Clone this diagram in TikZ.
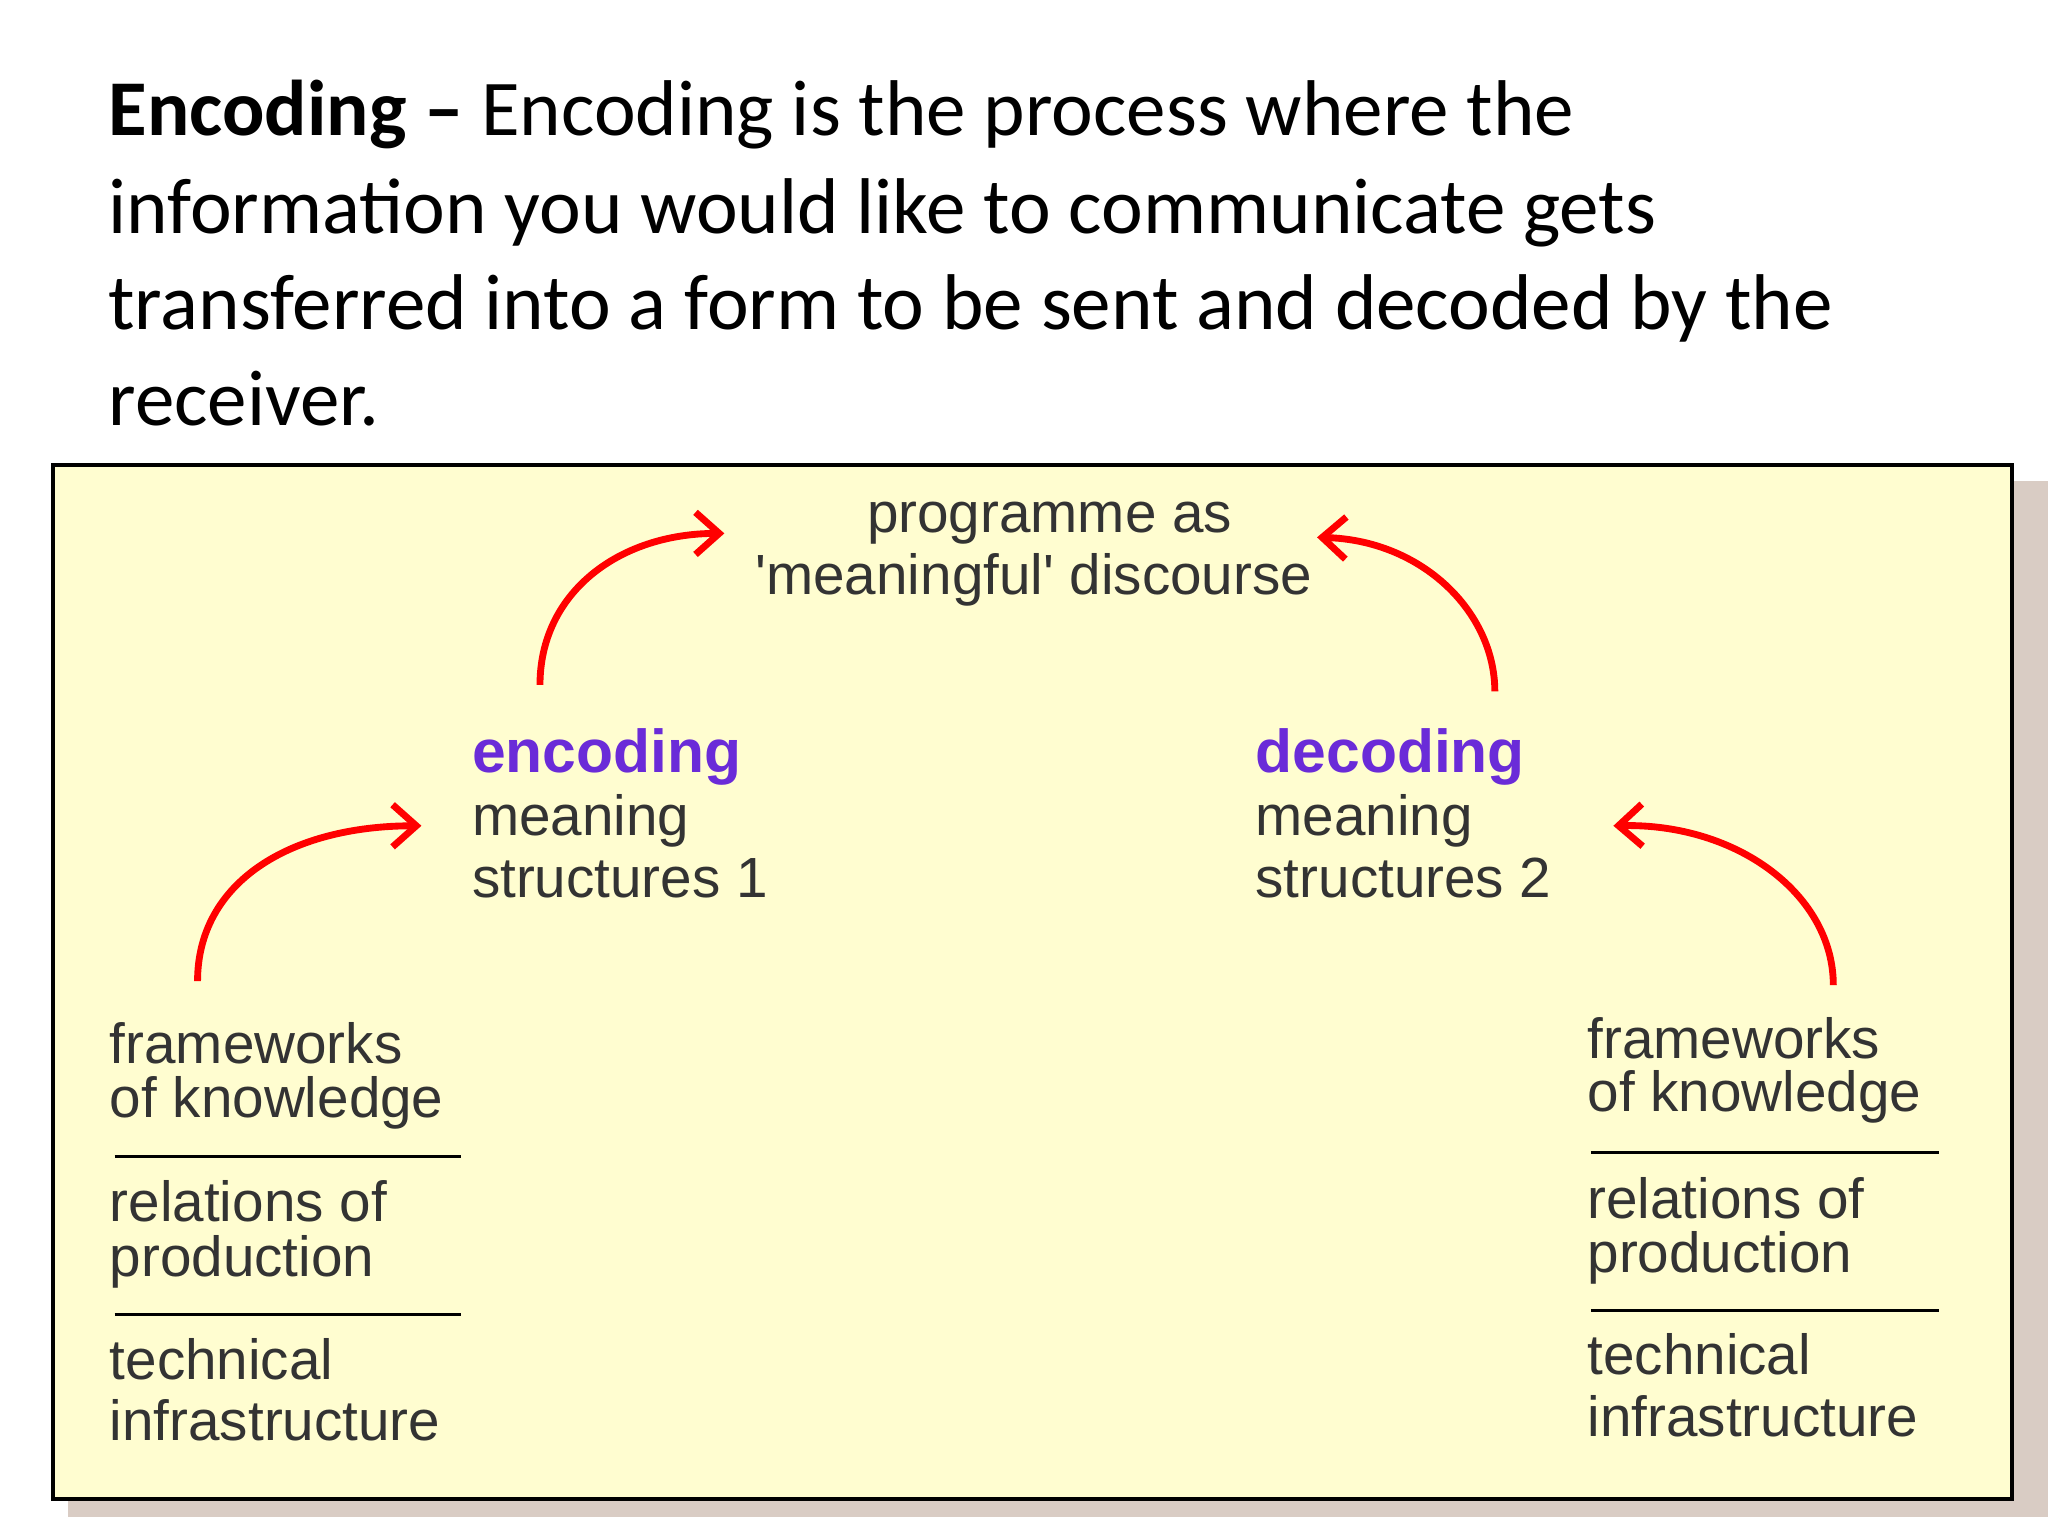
\documentclass[tikz,border=0pt]{standalone}
\usepackage{fontspec}
\setmainfont{Carlito}
\newfontfamily\diag{Liberation Sans}
\usetikzlibrary{arrows.meta}
\definecolor{boxfill}{HTML}{FFFDD0}
\definecolor{shadowc}{HTML}{D9CCC4}
\definecolor{purp}{HTML}{6A2BD8}
\definecolor{txtg}{HTML}{333333}
\tikzset{
  x=0.5pt,y=-0.5pt,
  dtext/.style={anchor=west,inner sep=0pt,font=\diag\fontsize{21.5}{24}\selectfont,text=txtg},
  dhead/.style={anchor=west,inner sep=0pt,font=\diag\bfseries\fontsize{23}{26}\selectfont,text=purp},
  rarrow/.style={draw=red,line width=2.6pt,-{Straight Barb[length=9pt,width=16pt,line width=2.6pt]}},
  sep/.style={draw=black,line width=1.2pt},
  title/.style={anchor=base west,inner sep=0pt,font=\fontsize{30}{36}\selectfont}
}
\begin{document}
\begin{tikzpicture}
\useasboundingbox (0,0) rectangle (1555,1166);
\fill[white] (0,0) rectangle (1555,1166);
% title
\node[title] (t1) at (82,103) {\textbf{Encoding –} Encoding is the process where the};
\node[title] (t2) at (82,177) {information you would like to communicate gets};
\node[title] (t3) at (82,250) {transferred into a form to be sent and decoded by the};
\node[title] (t4) at (82,323) {receiver.};
% box
\fill[shadowc] (52,365) rectangle (1555,1152);
\draw[black,line width=1.5pt,fill=boxfill] (40,353) rectangle (1528,1138);
% top
\node[dtext,anchor=center] (p1) at (797,397) {programme as};
\node[dtext,anchor=center] (p2) at (785,440) {'meaningful' discourse};
% encoding
\node[dhead] (enc) at (358,575) {encoding};
\node[dtext] (em1) at (358,623) {meaning};
\node[dtext] (em2) at (358,667) {structures 1};
\node[dhead] (dec) at (953,575) {decoding};
\node[dtext] (dm1) at (953,623) {meaning};
\node[dtext] (dm2) at (953,667) {structures 2};
% left stack
\node[dtext] (lf1) at (83,792) {frameworks};
\node[dtext] (lf2) at (83,837) {of knowledge};
\coordinate (ls1a) at (87,878); \coordinate (ls1b) at (350,878);
\draw[sep] (ls1a) -- (ls1b);
\node[dtext] (lr1) at (83,912) {relations of};
\node[dtext] (lr2) at (83,958) {production};
\coordinate (ls2a) at (87,998); \coordinate (ls2b) at (350,998);
\draw[sep] (ls2a) -- (ls2b);
\node[dtext] (lt1) at (83,1032) {technical};
\node[dtext] (lt2) at (83,1078) {infrastructure};
% right stack
\node[dtext] (rf1) at (1205,788) {frameworks};
\node[dtext] (rf2) at (1205,833) {of knowledge};
\coordinate (rs1a) at (1208,875); \coordinate (rs1b) at (1472,875);
\draw[sep] (rs1a) -- (rs1b);
\node[dtext] (rr1) at (1205,910) {relations of};
\node[dtext] (rr2) at (1205,955) {production};
\coordinate (rs2a) at (1208,995); \coordinate (rs2b) at (1472,995);
\draw[sep] (rs2a) -- (rs2b);
\node[dtext] (rt1) at (1205,1028) {technical};
\node[dtext] (rt2) at (1205,1075) {infrastructure};
% arrows
\coordinate (a1s) at (410,520); \coordinate (a1e) at (550,405);
\coordinate (a2s) at (1135,525); \coordinate (a2e) at (1000,408);
\coordinate (a3s) at (150,745); \coordinate (a3e) at (320,627);
\coordinate (a4s) at (1392,748); \coordinate (a4e) at (1225,627);
\draw[rarrow] (a1s) .. controls (410,450) and (470,405) .. (a1e);
\draw[rarrow] (a2s) .. controls (1135,465) and (1080,410) .. (a2e);
\draw[rarrow] (a3s) .. controls (150,670) and (220,627) .. (a3e);
\draw[rarrow] (a4s) .. controls (1392,680) and (1320,625) .. (a4e);
\end{tikzpicture}
\end{document}
